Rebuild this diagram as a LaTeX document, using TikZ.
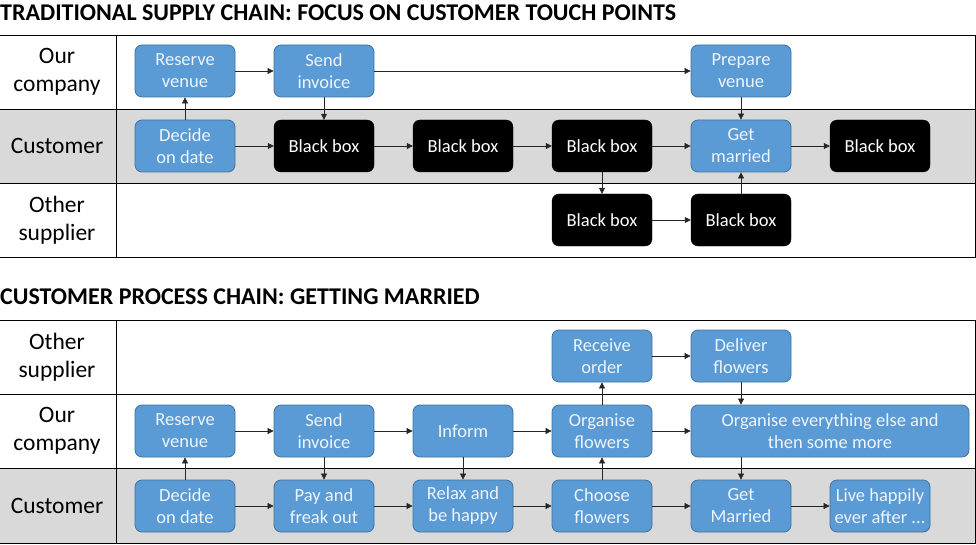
\documentclass[tikz,border=0pt]{standalone}
\usepackage{fontspec}
\setmainfont{Carlito}
\usetikzlibrary{arrows.meta}
\definecolor{boxblue}{HTML}{5B9BD5}
\definecolor{boxedge}{HTML}{41719C}
\definecolor{rowgrey}{HTML}{D9D9D9}
\definecolor{txtlight}{HTML}{EEF4FB}
\tikzset{
  bluebox/.style={draw=boxedge, line width=0.8pt, fill=boxblue, rounded corners=7pt,
    minimum width=100pt, minimum height=52pt, inner sep=2pt, align=center,
    text=txtlight, font=\fontsize{18.5}{22}\selectfont},
  blackbox/.style={draw=black, fill=black, rounded corners=7pt,
    minimum width=100pt, minimum height=52pt, inner sep=2pt, align=center,
    text=white, font=\fontsize{18.5}{22}\selectfont},
  lanelabel/.style={align=center, font=\fontsize{23.5}{28}\selectfont},
  title/.style={anchor=west, font=\bfseries\fontsize{24}{28}\selectfont, inner sep=0pt},
  arr/.style={-{Triangle[length=6pt,width=6pt]}, line width=0.7pt, draw=black!85},
  frame/.style={line width=0.8pt}
}
\begin{document}
\begin{tikzpicture}[x=1pt,y=-1pt]
\useasboundingbox (0,0) rectangle (976,545);
% ===== Top table =====
\node[title] (t1) at (0,13) {TRADITIONAL SUPPLY CHAIN: FOCUS ON CUSTOMER TOUCH POINTS};
\fill[rowgrey] (0,109) rectangle (975,183);
\draw[frame] (0,35) -- (975,35) -- (975,257) -- (0,257);
\draw[frame] (0,109) -- (975,109);
\draw[frame] (0,183) -- (975,183);
\draw[frame] (116,35) -- (116,257);
\node[lanelabel] (l1) at (57,72) {Our\\company};
\node[lanelabel] (l2) at (57,146) {Customer};
\node[lanelabel] (l3) at (57,220) {Other\\supplier};

\node[bluebox] (a1) at (185,71) {Reserve\\venue};
\node[bluebox] (a2) at (324,71) {Send\\invoice};
\node[bluebox] (a3) at (741,71) {Prepare\\venue};
\node[bluebox] (b1) at (185,146) {Decide\\on date};
\node[blackbox] (b2) at (324,146) {Black box};
\node[blackbox] (b3) at (463,146) {Black box};
\node[blackbox] (b4) at (602,146) {Black box};
\node[bluebox] (b5) at (741,146) {Get\\married};
\node[blackbox] (b6) at (880,146) {Black box};
\node[blackbox] (c1) at (602,220) {Black box};
\node[blackbox] (c2) at (741,220) {Black box};

\draw[arr] (b1) -- (a1);
\draw[arr] (a1) -- (a2);
\draw[arr] (a2) -- (a3);
\draw[arr] (a2) -- (b2);
\draw[arr] (a3) -- (b5);
\draw[arr] (b1) -- (b2);
\draw[arr] (b2) -- (b3);
\draw[arr] (b3) -- (b4);
\draw[arr] (b4) -- (b5);
\draw[arr] (b5) -- (b6);
\draw[arr] (b4) -- (c1);
\draw[arr] (c1) -- (c2);
\draw[arr] (c2) -- (b5);

% ===== Bottom table =====
\node[title] (t2) at (0,297) {CUSTOMER PROCESS CHAIN: GETTING MARRIED};
\fill[rowgrey] (0,468) rectangle (975,543);
\draw[frame] (0,320) -- (975,320) -- (975,543) -- (0,543);
\draw[frame] (0,394) -- (975,394);
\draw[frame] (0,468) -- (975,468);
\draw[frame] (116,320) -- (116,543);
\node[lanelabel] (m1) at (57,357) {Other\\supplier};
\node[lanelabel] (m2) at (57,431) {Our\\company};
\node[lanelabel] (m3) at (57,506) {Customer};

\node[bluebox] (d4) at (602,356) {Receive\\order};
\node[bluebox] (d5) at (741,356) {Deliver\\flowers};
\node[bluebox] (e1) at (185,431) {Reserve\\venue};
\node[bluebox] (e2) at (324,431) {Send\\invoice};
\node[bluebox] (e3) at (463,431) {Inform};
\node[bluebox] (e4) at (602,431) {Organise\\flowers};
\node[bluebox, minimum width=278pt] (e5) at (830,431) {Organise everything else and\\then some more};
\node[bluebox] (f1) at (185,506) {Decide\\on date};
\node[bluebox] (f2) at (324,506) {Pay and\\freak out};
\node[bluebox] (f3) at (463,506) {Relax and\\be happy};
\node[bluebox] (f4) at (602,506) {Choose\\flowers};
\node[bluebox] (f5) at (741,506) {Get\\Married};
\node[bluebox] (f6) at (880,506) {Live happily\\ever after ...};

\draw[arr] (d4) -- (d5);
\draw[arr] (d5.south) -- (d5.south |- e5.north);
\draw[arr] (e4) -- (d4);
\draw[arr] (e1) -- (e2);
\draw[arr] (e2) -- (e3);
\draw[arr] (e3) -- (e4);
\draw[arr] (e4) -- (e5);
\draw[arr] (f1) -- (e1);
\draw[arr] (e2) -- (f2);
\draw[arr] (e3) -- (f3);
\draw[arr] (f4) -- (e4);
\draw[arr] (f5 |- e5.south) -- (f5.north);
\draw[arr] (f1) -- (f2);
\draw[arr] (f2) -- (f3);
\draw[arr] (f3) -- (f4);
\draw[arr] (f4) -- (f5);
\draw[arr] (f5) -- (f6);
\end{tikzpicture}
\end{document}
